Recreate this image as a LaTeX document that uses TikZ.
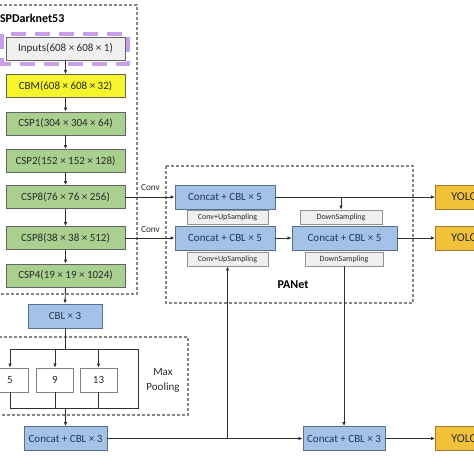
\documentclass[tikz,border=0pt]{standalone}
\usepackage{fontspec}
\setmainfont{Carlito}
\usetikzlibrary{arrows.meta}
\definecolor{greenf}{HTML}{A9D08E}
\definecolor{bluef}{HTML}{A4C2E6}
\definecolor{yellowf}{HTML}{F6F52C}
\definecolor{orangef}{HTML}{F2C13C}
\definecolor{grayf}{HTML}{EFEFEF}
\definecolor{boxline}{HTML}{626262}
\definecolor{blueline}{HTML}{58708F}
\definecolor{orangeline}{HTML}{9C7A2A}
\definecolor{linec}{HTML}{2E2E2E}
\definecolor{grpc}{HTML}{858585}
\definecolor{purpc}{HTML}{C99EE8}
\definecolor{txt}{HTML}{2A2A2A}
\definecolor{bluetxt}{HTML}{22385A}
\begin{document}
\begin{tikzpicture}[x=1pt,y=-1pt,
  base/.style={draw=boxline, line width=0.9pt, inner sep=0pt, text=txt, font=\fontsize{11}{13}\selectfont},
  gbox/.style={base, fill=greenf, minimum width=119pt, minimum height=23pt},
  ybox/.style={base, fill=yellowf, minimum width=119pt, minimum height=23pt},
  inbox/.style={base, fill=grayf, minimum width=119pt, minimum height=23pt},
  bbox/.style={base, draw=blueline, fill=bluef, text=bluetxt, minimum height=24pt},
  sbox/.style={base, draw=boxline!70, fill=grayf, font=\fontsize{8}{9}\selectfont, minimum height=14pt},
  pbox/.style={base, fill=white, draw=boxline!80, minimum width=37pt, minimum height=24pt},
  obox/.style={base, draw=orangeline, fill=orangef, text=txt, font=\fontsize{12}{14}\selectfont, minimum height=24pt, minimum width=70pt, text width=50pt, align=left, inner xsep=16pt},
  grp/.style={draw=grpc, line width=1.1pt, dash pattern=on 3pt off 2pt},
  purpdash/.style={draw=purpc, line width=4.5pt, dash pattern=on 15pt off 9pt},
  title/.style={font=\bfseries\fontsize{12}{14}\selectfont, text=black, inner sep=0pt},
  lbl/.style={font=\fontsize{11}{15}\selectfont, text=txt, inner sep=0pt},
  small/.style={font=\fontsize{9.3}{11}\selectfont, text=txt, inner sep=0pt},
  conn/.style={draw=linec, line width=0.9pt},
  arr/.style={conn, -{Latex[length=4pt,width=3.6pt]}}
]
\useasboundingbox (0,0) rectangle (474,474);
\clip (0,0) rectangle (474,474);
\fill[white] (0,0) rectangle (474,474);

% group frames
\draw[grp] (-5,5) rectangle (137,294);
\node[title, anchor=west] (cspt) at (-6.5,18) {CSPDarknet53};
\draw[grp] (166,166) rectangle (413,303);
\node[title] (pant) at (293,285) {PANet};
\draw[grp] (-5,337) rectangle (188,415);
\node[lbl, align=center] (mpt) at (163,380) {Max\\Pooling};

% purple highlight
\draw[purpdash] (2,34) rectangle (128,64);

% backbone
\node[inbox] (inp) at (65.5,48.5) {Inputs(608 × 608 × 1)};
\node[ybox] (cbm) at (65.5,86) {CBM(608 × 608 × 32)};
\node[gbox] (csp1) at (65.5,123.5) {CSP1(304 × 304 × 64)};
\node[gbox] (csp2) at (65.5,161) {CSP2(152 × 152 × 128)};
\node[gbox] (csp8a) at (65.5,197) {CSP8(76 × 76 × 256)};
\node[gbox] (csp8b) at (65.5,238) {CSP8(38 × 38 × 512)};
\node[gbox] (csp4) at (65.5,275.5) {CSP4(19 × 19 × 1024)};
\foreach \a/\b in {inp/cbm,cbm/csp1,csp1/csp2,csp2/csp8a,csp8a/csp8b,csp8b/csp4}
  \draw[arr] (\a.south) -- (\b.north);

% SPP
\node[bbox, minimum width=74pt] (cbl) at (65,316) {CBL × 3};
\draw[arr] (csp4.south) -- (cbl.north);
\node[pbox] (p5) at (10,380) {5};
\node[pbox] (p9) at (55,380) {9};
\node[pbox] (p13) at (98.5,380) {13};
\coordinate (tl) at (10,349);
\coordinate (tr) at (138,349);
\coordinate (br) at (138,408);
\coordinate (bl) at (10,408);
\draw[conn] (cbl.south) -- (cbl.south |- tl);
\draw[conn] (tl) -- (tr) -- (br) -- (bl);
\draw[arr] (tl) -- (p5.north);
\draw[conn] (p5.south) -- (bl);
\draw[arr] (p9.north |- tl) -- (p9.north);
\draw[conn] (p9.south) -- (p9.south |- bl);
\draw[arr] (p13.north |- tl) -- (p13.north);
\draw[conn] (p13.south) -- (p13.south |- bl);
\node[bbox, minimum width=83pt] (cat5) at (65.5,438.5) {Concat + CBL × 3};
\draw[arr] (cat5.north |- bl) -- (cat5.north);

% PANet
\node[bbox, minimum width=100pt] (cat1) at (225,197) {Concat + CBL × 5};
\node[sbox, minimum width=81pt] (up1) at (227.5,217) {Conv+UpSampling};
\node[bbox, minimum width=100pt] (cat2) at (225,238) {Concat + CBL × 5};
\node[sbox, minimum width=81pt] (up2) at (227.5,259) {Conv+UpSampling};
\node[sbox, minimum width=82pt] (ds1) at (341,217) {DownSampling};
\node[bbox, minimum width=105pt] (cat3) at (344.5,238) {Concat + CBL × 5};
\node[sbox, minimum width=78pt] (ds2) at (344,259) {DownSampling};

\node[obox, anchor=west] (yolo1) at (435,197) {YOLO};
\node[obox, anchor=west] (yolo2) at (435,238) {YOLO};

\draw[arr] (csp8a.east) -- (cat1.west);
\draw[arr] (csp8b.east) -- (cat2.west);
\node[small] (conv1) at (150.5,188) {Conv};
\node[small] (conv2) at (150.5,230) {Conv};
\draw[arr] (cat1.east) -- (yolo1.west);
\draw[arr] (ds1.north |- cat1.east) -- (ds1.north);
\draw[arr] (cat2.east) -- (cat3.west);
\draw[arr] (cat3.east) -- (yolo2.west);

% bottom row
\node[bbox, minimum width=82pt] (cat6) at (344,438.5) {Concat + CBL × 3};
\node[obox, anchor=west] (yolo3) at (435,438.5) {YOLO};
\draw[arr] (cat5.east) -- (cat6.west);
\draw[arr] (cat6.east) -- (yolo3.west);
\draw[arr] (ds2.south) -- (cat6.north);
\coordinate (upb) at (up2.south |- cat5.east);
\draw[arr] (upb) -- (up2.south);
\end{tikzpicture}
\end{document}
